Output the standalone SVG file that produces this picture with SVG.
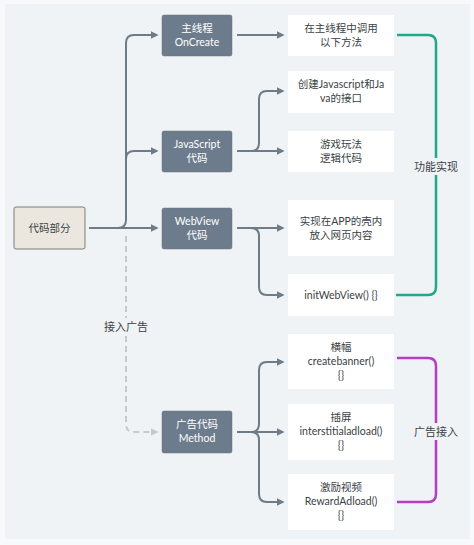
<svg xmlns="http://www.w3.org/2000/svg" width="474" height="545" viewBox="0 0 474 545">
<defs>
<style>
text{font-family:"Lato","Noto Sans CJK SC",sans-serif;font-size:10.5px;text-anchor:middle;}
.dark rect{fill:#6d7c8c;stroke:#65737f;stroke-width:0.5;}
.dark text{fill:#ffffff;}
.light rect{fill:#ffffff;}
.light text{fill:#3a3f45;}
.c{fill:none;stroke:#6e7b88;stroke-width:2;}
.d{fill:none;stroke:#c5cacf;stroke-width:2;stroke-dasharray:6 4;}
.lbl{fill:#3a3f45;font-size:11px;}
</style>
<marker id="ah" viewBox="0 0 10 10" refX="8" refY="5" markerWidth="4" markerHeight="4" orient="auto" markerUnits="strokeWidth">
<path d="M0,0 L10,5 L0,10 z" fill="#6e7b88"/>
</marker>
<marker id="ahd" viewBox="0 0 10 10" refX="8" refY="5" markerWidth="4" markerHeight="4" orient="auto" markerUnits="strokeWidth">
<path d="M0,0 L10,5 L0,10 z" fill="#c5cacf"/>
</marker>
</defs>
<rect x="0" y="0" width="474" height="545" fill="#f7f9fa"/>
<rect x="5" y="4" width="465" height="535" fill="#f0f3f6"/>

<g id="connectors">
<path class="c" d="M89,228 H157" marker-end="url(#ah)"/>
<path class="c" d="M118,228 Q126,228 126,220 V43 Q126,35 134,35 H157" marker-end="url(#ah)"/>
<path class="c" d="M126,159 Q126,151 134,151 H157" marker-end="url(#ah)"/>
<path class="d" d="M126,236 V424 Q126,432 134,432 H157" marker-end="url(#ahd)"/>
<path class="c" d="M237,35 H283" marker-end="url(#ah)"/>
<path class="c" d="M237,151 H283" marker-end="url(#ah)"/>
<path class="c" d="M251,151 Q259,151 259,143 V99 Q259,91 267,91 H283" marker-end="url(#ah)"/>
<path class="c" d="M237,228 H283" marker-end="url(#ah)"/>
<path class="c" d="M251,228 Q259,228 259,236 V287 Q259,295 267,295 H283" marker-end="url(#ah)"/>
<path class="c" d="M237,432 H283" marker-end="url(#ah)"/>
<path class="c" d="M251,432 Q259,432 259,424 V370 Q259,362 267,362 H283" marker-end="url(#ah)"/>
<path class="c" d="M251,432 Q259,432 259,440 V494 Q259,502 267,502 H283" marker-end="url(#ah)"/>
<path d="M397,35 H428 Q436,35 436,43 V287 Q436,295 428,295 H396" fill="none" stroke="#1fa98c" stroke-width="2.5"/>
<path d="M397,358 H428 Q436,358 436,366 V494 Q436,502 428,502 H397" fill="none" stroke="#b53cc4" stroke-width="2.5"/>
<rect x="104" y="318" width="44" height="17" fill="#f0f3f6"/>
<text class="lbl" x="126" y="331">接入广告</text>
<rect x="413" y="158" width="46" height="17" fill="#f0f3f6"/>
<text class="lbl" x="436" y="171">功能实现</text>
<rect x="413" y="423" width="46" height="17" fill="#f0f3f6"/>
<text class="lbl" x="436" y="436">广告接入</text>
</g>

<g id="root">
<rect x="14" y="207" width="71" height="42" rx="2" fill="#ebe7df" stroke="#7f7d72" stroke-width="1"/>
<text x="49.5" y="232" fill="#3a3f45">代码部分</text>
</g>

<g id="main" class="dark">
<rect x="162" y="15" width="70" height="41" rx="2"/>
<text x="197" y="32">主线程</text>
<text x="197" y="46">OnCreate</text>
</g>
<g id="js" class="dark">
<rect x="162" y="131" width="70" height="41" rx="2"/>
<text x="197" y="148">JavaScript</text>
<text x="197" y="162">代码</text>
</g>
<g id="webview" class="dark">
<rect x="162" y="208" width="70" height="41" rx="2"/>
<text x="197" y="225">WebView</text>
<text x="197" y="239">代码</text>
</g>
<g id="ad" class="dark">
<rect x="162" y="411" width="70" height="42" rx="2"/>
<text x="197" y="428">广告代码</text>
<text x="197" y="442">Method</text>
</g>

<g id="n1" class="light">
<rect x="288" y="15" width="106" height="41"/>
<text x="341" y="32">在主线程中调用</text>
<text x="341" y="46">以下方法</text>
</g>
<g id="n2" class="light">
<rect x="288" y="71" width="106" height="42"/>
<text x="341" y="88">创建Javascript和Ja</text>
<text x="341" y="102">va的接口</text>
</g>
<g id="n3" class="light">
<rect x="288" y="131" width="106" height="41"/>
<text x="341" y="148">游戏玩法</text>
<text x="341" y="162">逻辑代码</text>
</g>
<g id="n4" class="light">
<rect x="288" y="200" width="106" height="56"/>
<text x="341" y="225">实现在APP的壳内</text>
<text x="341" y="239">放入网页内容</text>
</g>
<g id="n5" class="light">
<rect x="288" y="274" width="106" height="42"/>
<text x="341" y="299">initWebView() {}</text>
</g>
<g id="n6" class="light">
<rect x="288" y="334" width="106" height="55"/>
<text x="341" y="351">横幅</text>
<text x="341" y="365">createbanner()</text>
<text x="341" y="379">{}</text>
</g>
<g id="n7" class="light">
<rect x="288" y="404" width="106" height="56"/>
<text x="341" y="421">插屏</text>
<text x="341" y="435">interstitialadload()</text>
<text x="341" y="449">{}</text>
</g>
<g id="n8" class="light">
<rect x="288" y="474" width="106" height="56"/>
<text x="341" y="491">激励视频</text>
<text x="341" y="505">RewardAdload()</text>
<text x="341" y="519">{}</text>
</g>
</svg>
